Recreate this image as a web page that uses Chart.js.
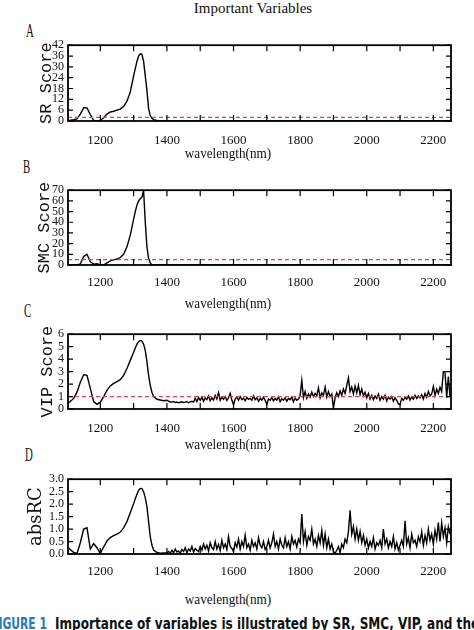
<!DOCTYPE html>
<html><head><meta charset="utf-8">
<script src="https://cdn.jsdelivr.net/npm/chart.js@4.4.1/dist/chart.umd.min.js"></script>
<style>
html,body{margin:0;padding:0;background:#fff;width:474px;height:630px;overflow:hidden;position:relative;}
.panel{position:absolute;left:0;width:474px;}
.txt{position:absolute;font-family:'Liberation Serif',serif;color:#111;white-space:nowrap;}
.xt{left:128px;width:200px;text-align:center;font-size:15px;line-height:15px;transform:scaleX(0.88);}
.let{font-size:18px;line-height:18px;transform:scaleX(0.6);transform-origin:left top;}
.cap{position:absolute;top:617px;white-space:nowrap;font:bold 15px/15px 'DejaVu Sans Condensed','DejaVu Sans',sans-serif;transform-origin:left top;}
</style></head><body>
<div class="txt" style="left:153px;width:200px;top:1px;text-align:center;font-size:15px;line-height:15px;">Important Variables</div>
<div class="txt let" style="left:26px;top:22px;">A</div>
<div class="txt let" style="left:23px;top:158px;">B</div>
<div class="txt let" style="left:24px;top:302px;">C</div>
<div class="txt let" style="left:25px;top:446px;">D</div>

<div class="panel" style="top:34px;height:119px;"><canvas id="cA"></canvas></div>
<div class="panel" style="top:179px;height:118px;"><canvas id="cB"></canvas></div>
<div class="panel" style="top:323px;height:118px;"><canvas id="cC"></canvas></div>
<div class="panel" style="top:468px;height:118px;"><canvas id="cD"></canvas></div>

<div class="txt xt" style="top:146px;">wavelength(nm)</div>
<div class="txt xt" style="top:296px;">wavelength(nm)</div>
<div class="txt xt" style="top:437px;">wavelength(nm)</div>
<div class="txt xt" style="top:592px;">wavelength(nm)</div>

<div class="cap" style="left:-9px;color:#2a7ab8;transform:scaleX(0.8);">FIGURE 1</div>
<div class="cap" style="left:55px;color:#111;transform:scaleX(0.895);">Importance of variables is illustrated by SR, SMC, VIP, and the</div>

<script>
// ---- data ----
const xMin = 1103, xMax = 2253;
const xTickValues = [1200,1300,1400,1500,1600,1700,1800,1900,2000,2100,2200];
const xLabelValues = [1200,1400,1600,1800,2000,2200];
const yTicksSR = [0,6,12,18,24,30,36,42];
const yTicksSMC = [0,10,20,30,40,50,60,70];
const yTicksVIP = [0,1,2,3,4,5,6];
const yTicksRC = [0,0.5,1,1.5,2,2.5,3];
const srCut = 2, smcCut = 5, vipCut = 1;

const wlPeak = [1100,1110,1120,1130,1140,1150,1160,1170,1180,1190,1200,1210,1220,1230,1240,1250,1260,1270,1280,1290,1300,1305,1310,1315,1320,1325,1330,1335,1340,1345,1350,1355,1360,1370,1380,1390];
const srPeak = [0.3,0.4,0.7,1.2,3.8,7.4,7.3,3.6,0.3,0.0,0.3,1.8,3.8,5.0,5.4,6.0,6.6,8.0,11.0,16.0,25.0,29.0,33.0,36.0,37.2,37.0,33.0,25.0,17.0,7.0,3.0,1.5,0.8,0.3,0.1,0.0];
const smcPeak = [0,0,0,0,1.0,8.0,10.0,3.0,0.8,1.2,0,0,2.0,3.8,4.8,5.6,7.0,10.0,17.0,28.0,43.0,50.0,56.0,60.0,62.0,63.5,70.0,40.0,17.0,6.0,2.0,0,0,0,0,0];
const vipPeak = [0.45,0.60,0.85,1.35,2.15,2.75,2.70,1.65,0.60,0.38,0.55,1.00,1.50,1.85,2.05,2.20,2.35,2.70,3.25,3.90,4.55,4.90,5.20,5.40,5.50,5.45,5.20,4.70,3.80,2.70,1.90,1.35,1.00,0.78,0.72,0.66];
const rcPeak = [0.30,0.18,0.06,0.02,0.45,1.00,1.05,0.20,0.42,0.25,0.02,0.28,0.52,0.66,0.74,0.80,0.88,1.05,1.30,1.65,2.02,2.22,2.40,2.55,2.63,2.62,2.50,2.25,1.90,1.30,0.70,0.36,0.16,0.06,0.03,0.04];

const wlFlat = [1400,2260];
const srFlat = [0,0];
const smcFlat = [0,0];

const wlTail = [1400,1405,1410,1415,1420,1425,1430,1435,1440,1445,
1450,1455,1460,1465,1470,1475,1480,1485,1490,1495,
1500,1505,1510,1515,1520,1525,1530,1535,1540,1545,
1550,1555,1560,1565,1570,1575,1580,1585,1590,1595,
1600,1605,1610,1615,1620,1625,1630,1635,1640,1645,
1650,1655,1660,1665,1670,1675,1680,1685,1690,1695,
1700,1705,1710,1715,1720,1725,1730,1735,1740,1745,
1750,1755,1760,1765,1770,1775,1780,1785,1790,1795,
1800,1805,1810,1815,1820,1825,1830,1835,1840,1845,
1850,1855,1860,1865,1870,1875,1880,1885,1890,1895,
1900,1905,1910,1915,1920,1925,1930,1935,1940,1945,
1950,1955,1960,1965,1970,1975,1980,1985,1990,1995,
2000,2005,2010,2015,2020,2025,2030,2035,2040,2045,
2050,2055,2060,2065,2070,2075,2080,2085,2090,2095,
2100,2105,2110,2115,2120,2125,2130,2135,2140,2145,
2150,2155,2160,2165,2170,2175,2180,2185,2190,2195,
2200,2205,2210,2215,2220,2225,2230,2235,2240,2245,
2250];
const vipTail = [0.70,0.62,0.58,0.55,0.60,0.52,0.56,0.50,0.54,0.58,
0.52,0.55,0.60,0.50,0.57,0.62,0.55,0.85,0.60,0.92,
0.70,0.95,0.62,0.88,0.75,1.05,0.66,0.90,0.72,1.10,
0.80,1.30,0.70,0.95,0.78,1.00,0.68,0.90,1.25,0.72,
0.35,0.80,0.95,0.70,1.00,0.75,0.88,0.66,0.92,0.78,
0.85,0.70,1.05,0.75,0.90,0.62,0.85,0.72,0.95,0.68,
0.40,0.80,0.70,0.92,0.65,0.85,0.72,0.98,0.60,0.82,
0.70,0.90,0.62,0.85,0.75,0.95,0.58,0.88,0.70,0.80,
1.10,2.30,0.90,1.40,0.85,1.20,0.95,1.35,1.00,1.25,
1.05,1.70,0.90,1.30,1.10,1.75,0.95,1.40,1.00,1.20,
0.08,0.90,1.30,1.00,1.45,1.10,1.60,1.25,1.90,2.50,
1.40,1.75,1.20,1.85,1.30,1.90,1.15,1.60,1.05,1.35,
0.90,1.25,0.80,1.10,0.75,1.05,0.85,1.20,0.70,1.00,
0.78,1.10,0.65,0.95,0.80,1.00,0.62,0.90,0.70,0.40,
0.35,0.85,0.70,0.95,0.78,1.05,0.72,0.98,0.80,1.10,
0.85,1.05,0.90,1.15,0.80,1.25,0.95,1.40,1.05,1.20,
1.80,1.10,1.60,1.25,1.75,1.40,3.00,3.00,0.90,2.60,
1.00];
const rcTail = [0.05,0.10,0.02,0.15,0.05,0.20,0.08,0.12,0.03,0.18,
0.10,0.25,0.05,0.20,0.12,0.30,0.08,0.22,0.15,0.10,
0.30,0.15,0.40,0.20,0.35,0.12,0.45,0.25,0.18,0.50,
0.20,0.38,0.15,0.55,0.25,0.40,0.18,0.70,0.30,0.22,
0.10,0.45,0.28,0.60,0.20,0.50,0.30,0.75,0.25,0.40,
0.15,0.55,0.30,0.45,0.20,0.65,0.35,0.25,0.50,0.18,
0.30,0.55,0.25,0.45,0.80,0.30,0.50,0.20,0.60,0.35,
0.25,0.65,0.30,0.50,0.20,0.70,0.40,0.55,0.28,0.60,
0.45,1.60,0.50,0.90,0.35,0.70,0.55,1.00,0.40,0.60,
0.30,0.75,0.45,0.95,0.35,0.80,0.25,0.60,0.20,0.40,
0.10,0.02,0.15,0.30,0.05,0.40,0.25,0.60,0.45,0.90,
1.75,0.80,1.10,0.60,1.00,0.55,0.90,0.45,0.75,0.35,
0.60,0.25,0.50,0.30,0.65,0.20,0.45,0.35,0.55,0.25,
1.00,0.40,0.60,0.25,0.50,0.30,0.70,0.20,0.45,0.15,
0.35,0.55,0.30,1.33,0.40,0.65,0.25,0.80,0.45,0.55,
0.30,0.70,0.50,0.90,0.35,0.75,0.45,1.00,0.55,0.80,
0.40,0.95,0.60,1.26,0.50,1.25,0.70,1.05,0.45,1.10,
0.80];

// ---- helpers ----
const pts = (xs, ys) => xs.map((x, i) => ({x, y: ys[i]}));
const cutLine = v => [{x: xMin, y: v}, {x: xMax, y: v}];

const framePlugin = {
  id: 'frame',
  afterDraw(chart) {
    const {ctx, chartArea: a, scales: {x, y}} = chart;
    ctx.save();
    ctx.strokeStyle = '#000';
    ctx.lineWidth = 1.2;
    ctx.beginPath();
    x.ticks.forEach(t => {
      const px = x.getPixelForValue(t.value);
      ctx.moveTo(px, a.bottom); ctx.lineTo(px, a.bottom - 6);
      ctx.moveTo(px, a.top); ctx.lineTo(px, a.top + 6);
    });
    y.ticks.forEach(t => {
      const py = y.getPixelForValue(t.value);
      ctx.moveTo(a.left, py); ctx.lineTo(a.left + 5, py);
      ctx.moveTo(a.right, py); ctx.lineTo(a.right - 5, py);
    });
    ctx.stroke();
    ctx.lineWidth = 1.8;
    ctx.strokeRect(a.left, a.top, a.right - a.left, a.bottom - a.top);
    ctx.restore();
  }
};

function makePanel(id, c) {
  new Chart(document.getElementById(id), {
    type: 'line',
    data: { datasets: [
      { data: cutLine(c.cut), borderColor: 'rgb(222,70,80)', borderDash: [4, 3], borderWidth: 1.2, pointRadius: 0 },
      { data: c.points, borderColor: '#000', borderWidth: 1.4, pointRadius: 0, tension: 0 }
    ]},
    options: {
      responsive: true, maintainAspectRatio: false, animation: false, events: [],
      layout: { padding: { left: c.padLeft, right: 23, top: 10, bottom: 0 } },
      plugins: { legend: { display: false }, tooltip: { enabled: false } },
      scales: {
        x: {
          type: 'linear', min: xMin, max: xMax,
          grid: { display: false, drawTicks: false }, border: { display: false },
          afterBuildTicks: s => { s.ticks = xTickValues.map(v => ({value: v})); },
          afterFit: s => { s.height = 32; },
          ticks: { autoSkip: false, maxRotation: 0, padding: c.xPad, color: '#111',
            font: { family: "'Liberation Serif', serif", size: 13 },
            callback: v => xLabelValues.includes(v) ? String(v) : '' }
        },
        y: {
          type: 'linear', min: 0, max: c.yMax,
          grid: { display: false, drawTicks: false }, border: { display: false },
          afterBuildTicks: s => { s.ticks = c.yTicks.map(v => ({value: v})); },
          afterFit: s => { s.width = 68 - c.padLeft; },
          ticks: { autoSkip: false, padding: 4, color: '#111',
            font: { family: "'Liberation Serif', serif", size: 12 },
            callback: c.fmt },
          title: { display: true, text: c.yTitle, padding: 0, color: '#111',
            font: { family: c.yFont, size: c.ySize, lineHeight: 1 } }
        }
      }
    },
    plugins: [framePlugin]
  });
}

makePanel('cA', { points: pts(wlPeak, srPeak).concat(pts(wlFlat, srFlat)), cut: srCut, yMax: 42, yTicks: yTicksSR,
  fmt: v => String(v), yTitle: 'SR Score', yFont: "'Liberation Mono', monospace", ySize: 17, padLeft: 38, xPad: 12 });
makePanel('cB', { points: pts(wlPeak, smcPeak).concat(pts(wlFlat, smcFlat)), cut: smcCut, yMax: 70, yTicks: yTicksSMC,
  fmt: v => String(v), yTitle: 'SMC Score', yFont: "'Liberation Mono', monospace", ySize: 17, padLeft: 36, xPad: 10 });
makePanel('cC', { points: pts(wlPeak, vipPeak).concat(pts(wlTail, vipTail)), cut: vipCut, yMax: 6, yTicks: yTicksVIP,
  fmt: v => String(v), yTitle: 'VIP Score', yFont: "'Liberation Mono', monospace", ySize: 17, padLeft: 39, xPad: 12 });
makePanel('cD', { points: pts(wlPeak, rcPeak).concat(pts(wlTail, rcTail)), cut: null, yMax: 3, yTicks: yTicksRC,
  fmt: v => v.toFixed(1), yTitle: 'absRC', yFont: "'DejaVu Serif', serif", ySize: 18, padLeft: 27, xPad: 10 });
</script>
</body></html>
